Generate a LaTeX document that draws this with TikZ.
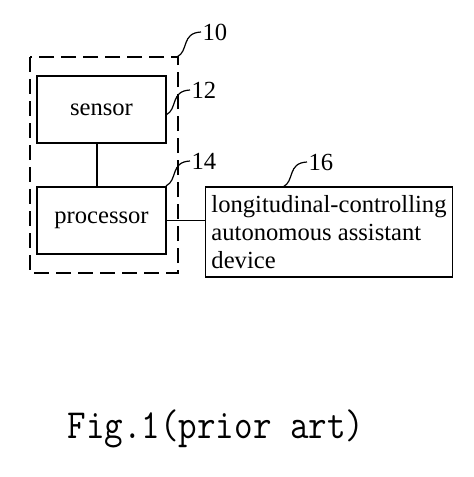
\documentclass[tikz,border=0pt]{standalone}
\usepackage{fontspec}
\setmainfont{Liberation Serif}

\begin{document}
\begin{tikzpicture}[x=1pt,y=-1pt,line width=1.2pt,
  block/.style={draw,minimum width=129pt,minimum height=67pt,font=\fontsize{24.6}{28}\selectfont},
  refnum/.style={anchor=west,inner sep=1pt,font=\fontsize{24.6}{28}\selectfont}]
\useasboundingbox (0,0) rectangle (474,477);
% dashed frame of unit 10
\draw[dash pattern=on 15pt off 7pt] (30,57) rectangle (178,273);
\node[block] (sensor) at (101.5,109.5) {sensor};
\node[block] (proc) at (101.5,220.5) {processor\hspace{10pt}};
\node[draw,minimum width=246pt,minimum height=90pt,align=left,inner xsep=6pt,
  font=\fontsize{24.6}{28}\selectfont] (device) at (329,232)
  {longitudinal-controlling\\autonomous assistant\\device};
\draw ([xshift=-4.5pt]sensor.south) -- ([xshift=-4.5pt]proc.north);
\draw (proc.east) -- (proc.east -| device.west);
% reference numerals with leaders
\foreach \n/\x/\y in {10/177/57,12/166/115,14/166/186,16/283/187}{
  \coordinate (s\n) at (\x,\y);
  \node[refnum] (r\n) at (\x+24,\y-25) {\n};
  \draw (s\n) .. controls +(12,-6) and ([shift={(-20,1)}]r\n.west) .. (r\n.west);
}
\node[anchor=base,font=\ttfamily\fontsize{36}{40}\selectfont] (cap) at (216,438)
  {\scalebox{1}[1.15]{Fig.1(prior art)}};
\end{tikzpicture}
\end{document}
